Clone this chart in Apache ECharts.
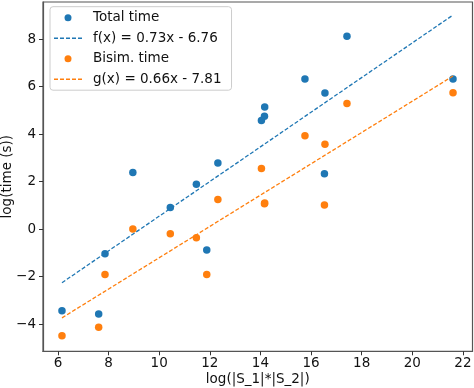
<!DOCTYPE html>
<html><head><meta charset="utf-8">
<script src="https://cdn.jsdelivr.net/npm/echarts@6/dist/echarts.min.js"></script>
<style>html,body{margin:0;padding:0;background:#fff}#c{width:474px;height:388px}</style>
</head><body><div id="c"></div>
<script>
var xValues = [6.16, 7.61, 7.86, 8.96, 10.44, 11.47, 11.88, 12.32, 14.04, 14.16, 14.17, 15.76, 16.53, 16.55, 17.42, 21.61];
var totalTime = [-3.44, -3.58, -1.04, 2.39, 0.91, 1.89, -0.88, 2.79, 4.58, 4.76, 5.14, 6.33, 2.33, 5.73, 8.13, 6.33];
var bisimTime = [-4.49, -4.14, -1.91, 0.0, -0.20, -0.37, -1.91, 1.25, 2.55, 1.07, 1.10, 3.93, 1.02, 3.58, 5.29, 5.75];
var fitX = [6.16, 21.61];
var fitTotal = [-2.26, 9.02];
var fitBisim = [-3.74, 6.45];
var xTicks = [6, 8, 10, 12, 14, 16, 18, 20, 22];
var yTicks = [-4, -2, 0, 2, 4, 6, 8];
var names = ['Total time', 'f(x) = 0.73x - 6.76', 'Bisim. time', 'g(x) = 0.66x - 7.81'];

function pairs(xs, ys) { return xs.map(function (x, i) { return [x, ys[i]]; }); }

var FONT = 'DejaVu Sans';
var blue = '#1f77b4', orange = '#ff7f0e';
var dotIcon = 'path://M0,0M28,14M17.5,7A3.5,3.5,0,1,1,10.5,7A3.5,3.5,0,1,1,17.5,7Z';
var dashIcon = 'path://M0,0M28,14M0,6.4h4v1.3h-4zM6,6.4h4v1.3h-4zM12,6.4h4v1.3h-4zM18,6.4h4v1.3h-4zM24,6.4h4v1.3h-4z';

var chart = echarts.init(document.getElementById('c'), null, {renderer: 'canvas'});
chart.setOption({
  animation: false,
  grid: {left: 43, top: 2, right: 1.5, bottom: 36.7, outerBoundsMode: 'none', containLabel: false,
    show: true, borderColor: '#555', borderWidth: 1.2, backgroundColor: 'transparent'},
  xAxis: {
    type: 'value', min: 5.41, max: 22.38,
    name: 'log(|S_1|*|S_2|)', nameLocation: 'middle', nameGap: 21.5, nameMoveOverlap: false,
    nameTextStyle: {fontFamily: FONT, fontSize: 13.5, color: '#111', verticalAlign: 'top'},
    axisLine: {show: true, onZero: false, lineStyle: {color: '#555', width: 1.2}},
    axisTick: {show: true, length: 4, customValues: xTicks, lineStyle: {color: '#333'}},
    axisLabel: {customValues: xTicks, margin: 5, fontFamily: FONT, fontSize: 13.5, color: '#111'},
    splitLine: {show: false}
  },
  yAxis: {
    type: 'value', min: -5.15, max: 9.57,
    name: 'log(time (s))', nameLocation: 'middle', nameGap: 29, nameMoveOverlap: false,
    nameTextStyle: {fontFamily: FONT, fontSize: 13.5, color: '#111'},
    axisLine: {show: true, onZero: false, lineStyle: {color: '#555', width: 1.2}},
    axisTick: {show: true, length: 4, customValues: yTicks, lineStyle: {color: '#333'}},
    axisLabel: {customValues: yTicks, margin: 7, fontFamily: FONT, fontSize: 13.5, color: '#111',
      formatter: function (v) { return v < 0 ? '\u2212' + Math.abs(v) : String(v); }},
    splitLine: {show: false}
  },
  legend: {
    orient: 'vertical', left: 50, top: 6.7,
    padding: [4, 10, 4, 4],
    itemWidth: 28, itemHeight: 14, itemGap: 6.5,
    backgroundColor: 'rgba(255,255,255,0.8)', borderColor: '#ccc', borderWidth: 1, borderRadius: 3,
    textStyle: {fontFamily: FONT, fontSize: 13.5, color: '#111', padding: [0, 0, 0, 6]},
    data: [
      {name: names[0], icon: dotIcon},
      {name: names[1], icon: dashIcon},
      {name: names[2], icon: dotIcon},
      {name: names[3], icon: dashIcon}
    ]
  },
  series: [
    {name: names[0], type: 'scatter', data: pairs(xValues, totalTime), symbolSize: 7.5, itemStyle: {color: blue, opacity: 1}},
    {name: names[1], type: 'line', data: pairs(fitX, fitTotal), showSymbol: false, symbol: 'none',
      lineStyle: {color: blue, width: 1.3, type: [4, 2]}, itemStyle: {color: blue}},
    {name: names[2], type: 'scatter', data: pairs(xValues, bisimTime), symbolSize: 7.5, itemStyle: {color: orange, opacity: 1}},
    {name: names[3], type: 'line', data: pairs(fitX, fitBisim), showSymbol: false, symbol: 'none',
      lineStyle: {color: orange, width: 1.3, type: [4, 2]}, itemStyle: {color: orange}}
  ]
});
</script></body></html>
